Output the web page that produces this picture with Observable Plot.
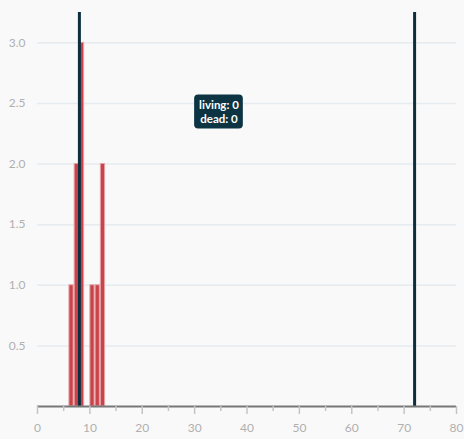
<!DOCTYPE html>
<html>
<head>
<meta charset="utf-8">
<script src="https://cdn.jsdelivr.net/npm/d3@7"></script>
<script src="https://cdn.jsdelivr.net/npm/@observablehq/plot@0.6"></script>
<style>
  html, body { margin: 0; padding: 0; background: #f9f9f9; }
  #chart svg { display: block; }
</style>
</head>
<body>
<div id="chart"></div>
<script>
// Histogram bins (age start) and counts
const binStarts = [6, 7, 8, 10, 11, 12];
const counts = [1, 2, 3, 1, 1, 2];
const binWidth = 1;
// Vertical marker lines
const markers = [8, 72];
// Axis ticks
const xMajorTicks = [0, 10, 20, 30, 40, 50, 60, 70, 80];
const xMinorTicks = [5, 15, 25, 35, 45, 55, 65, 75];
const yTicks = [0.5, 1.0, 1.5, 2.0, 2.5, 3.0];
// Tooltip
const tipLines = ["living: 0", "dead: 0"];
const tipBox = {x1: 30, x2: 39.3, y1: 2.29, y2: 2.57};
const tipCenter = {x: 34.65, y: 2.43};

const bins = binStarts.map((s, i) => ({x1: s, x2: s + binWidth, y: counts[i]}));

const chart = Plot.plot({
  width: 464,
  height: 439,
  marginLeft: 37,
  marginRight: 8,
  marginTop: 12,
  marginBottom: 33,
  style: {background: "#f9f9f9", fontFamily: "Lato, sans-serif", fontSize: "12px"},
  x: {domain: [0, 80]},
  y: {domain: [0, 3.25]},
  marks: [
    Plot.gridY(yTicks, {stroke: "#e6ebef", strokeOpacity: 1, strokeWidth: 1.5}),
    Plot.axisY(yTicks, {tickSize: 0, tickPadding: 12, tickFormat: d => d.toFixed(1), fill: "#b0b0b0", fontSize: 12}),
    Plot.rectY(bins, {x1: "x1", x2: "x2", y: "y", fill: "#c9434b", stroke: "#e6a3a7", strokeWidth: 1, insetLeft: 0.5, insetRight: 0.5}),
    Plot.ruleX(markers, {stroke: "#0b2f40", strokeWidth: 3}),
    Plot.ruleY([0], {stroke: "#777777", strokeWidth: 2}),
    Plot.axisX(xMajorTicks, {tickSize: 8, tickPadding: 9, stroke: "#c4c4c4", strokeWidth: 1.5, fill: "#b0b0b0", fontSize: 12, tickFormat: d => String(d)}),
    Plot.axisX(xMinorTicks, {tickSize: 5, stroke: "#c4c4c4", strokeWidth: 1.5, tickFormat: () => ""}),
    Plot.rect([tipBox], {x1: "x1", x2: "x2", y1: "y1", y2: "y2", fill: "#0c3443", rx: 4}),
    Plot.text([tipCenter], {x: "x", y: "y", text: () => tipLines.join("\n"), fill: "white", fontSize: 11.5, fontWeight: "bold", lineHeight: 1.2})
  ]
});
document.getElementById("chart").appendChild(chart);
</script>
</body>
</html>
